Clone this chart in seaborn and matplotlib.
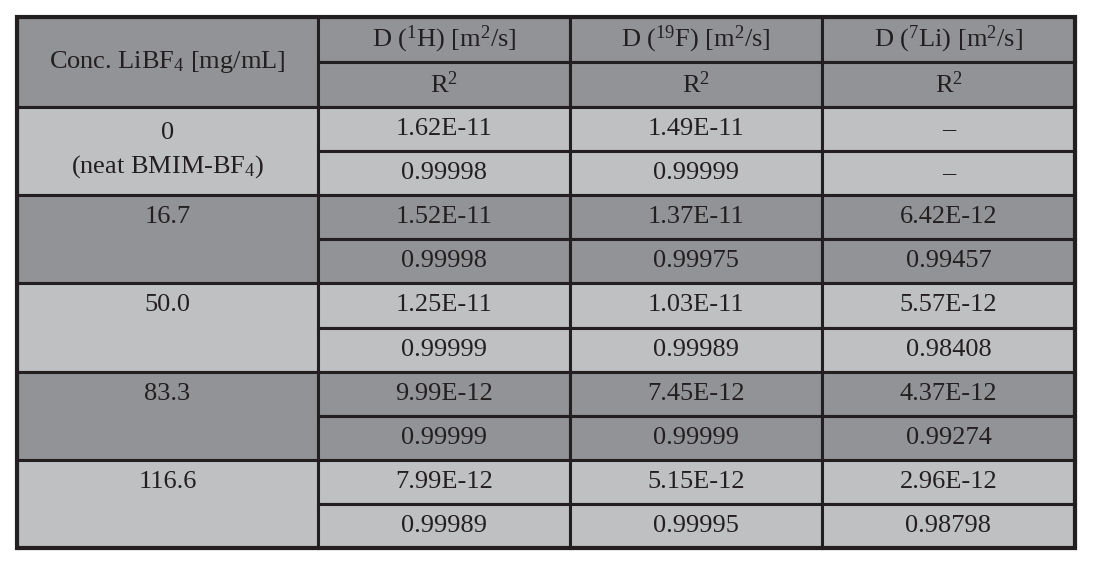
import matplotlib
matplotlib.use("Agg")
import matplotlib.pyplot as plt
from matplotlib.patches import Rectangle
import seaborn as sns

sns.set_theme(style="white")
plt.rcParams['font.family'] = ['Liberation Serif', 'DejaVu Serif']
plt.rcParams['mathtext.fontset'] = 'custom'
plt.rcParams['mathtext.rm'] = 'Liberation Serif'
plt.rcParams['mathtext.it'] = 'Liberation Serif'

## Data ---------------------------------------------------------------------##
header_first = 'Conc. LiBF$_4$ [mg/mL]'
header_nuclei = ['D ($^{1}$H) [m$^{2}$/s]', 'D ($^{19}$F) [m$^{2}$/s]', 'D ($^{7}$Li) [m$^{2}$/s]']
header_r2 = 'R$^{2}$'
concentrations = ['0\n(neat BMIM-BF$_4$)', '16.7', '50.0', '83.3', '116.6']
d_h = ['1.62E-11', '1.52E-11', '1.25E-11', '9.99E-12', '7.99E-12']
r2_h = ['0.99998', '0.99998', '0.99999', '0.99999', '0.99989']
d_f = ['1.49E-11', '1.37E-11', '1.03E-11', '7.45E-12', '5.15E-12']
r2_f = ['0.99999', '0.99975', '0.99989', '0.99999', '0.99995']
d_li = ['–', '6.42E-12', '5.57E-12', '4.37E-12', '2.96E-12']
r2_li = ['–', '0.99457', '0.98408', '0.99274', '0.98798']

## Layout -------------------------------------------------------------------##
light = '#bfc0c2'
dark = '#929396'
edge = '#231f20'
col_x = [17, 318, 570, 822, 1075]
top = 17
head_h = 45
row_h = 44.1
fs = 19

fig = plt.figure(figsize=(10.98, 5.63), dpi=100)
ax = fig.add_axes([0, 0, 1, 1])
ax.set_xlim(0, 1098)
ax.set_ylim(563, 0)
ax.axis('off')

def cell(x0, x1, y0, y1, color, text, va_top=False):
    ax.add_patch(Rectangle((x0, y0), x1 - x0, y1 - y0, facecolor=color,
                           edgecolor=edge, linewidth=2.2))
    ty = y0 + 22 if va_top else (y0 + y1) / 2
    ax.text((x0 + x1) / 2, ty, text, ha='center', va='center', fontsize=fs,
            color='#231f20', linespacing=1.45)

# header
cell(col_x[0], col_x[1], top, top + 2 * head_h, dark, header_first)
for j, lab in enumerate(header_nuclei):
    cell(col_x[j + 1], col_x[j + 2], top, top + head_h, dark, lab)
    cell(col_x[j + 1], col_x[j + 2], top + head_h, top + 2 * head_h, dark, header_r2)

# body
y = top + 2 * head_h
cols = [(d_h, r2_h), (d_f, r2_f), (d_li, r2_li)]
for i, conc in enumerate(concentrations):
    color = light if i % 2 == 0 else dark
    cell(col_x[0], col_x[1], y, y + 2 * row_h, color, conc, va_top=(i > 0))
    for j, (dv, rv) in enumerate(cols):
        cell(col_x[j + 1], col_x[j + 2], y, y + row_h, color, dv[i])
        cell(col_x[j + 1], col_x[j + 2], y + row_h, y + 2 * row_h, color, rv[i])
    y += 2 * row_h

ax.add_patch(Rectangle((col_x[0], top), col_x[-1] - col_x[0], y - top,
                       fill=False, edgecolor=edge, linewidth=3))

fig.savefig('out.png', dpi=100, facecolor='white')
